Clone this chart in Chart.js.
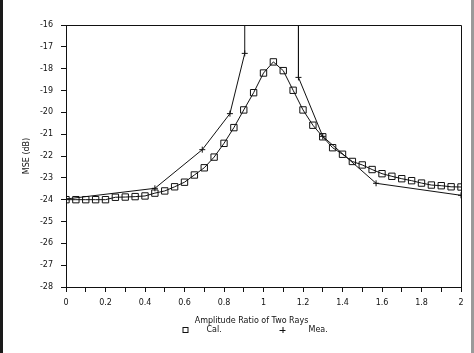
<!DOCTYPE html>
<html>
<head>
<meta charset="utf-8">
<script src="https://cdn.jsdelivr.net/npm/chart.js@4.4.1/dist/chart.umd.min.js"></script>
<style>
  html, body { margin: 0; padding: 0; background: #fff; }
  #wrap { width: 474px; height: 353px; }
</style>
</head>
<body>
<div id="wrap"><canvas id="mseChart" width="474" height="353"></canvas></div>
<script>
// amplitude ratio of the two rays (x) for the calculated curve
const calX = [0, 0.05, 0.1, 0.15, 0.2, 0.25, 0.3, 0.35, 0.4, 0.45, 0.5, 0.55, 0.6, 0.65, 0.7, 0.75, 0.8, 0.85, 0.9, 0.95,
              1.0, 1.05, 1.1, 1.15, 1.2, 1.25, 1.3, 1.35, 1.4, 1.45, 1.5, 1.55, 1.6, 1.65, 1.7, 1.75, 1.8, 1.85, 1.9, 1.95, 2.0];
// calculated MSE (dB)
const calY = [-24.0, -24.0, -24.0, -24.0, -24.0, -23.89, -23.88, -23.86, -23.83, -23.7, -23.6, -23.41, -23.2, -22.87, -22.54, -22.05, -21.42, -20.7, -19.89, -19.1,
              -18.2, -17.69, -18.09, -18.99, -19.89, -20.59, -21.12, -21.62, -21.92, -22.25, -22.41, -22.62, -22.81, -22.93, -23.04, -23.13, -23.24, -23.33, -23.36, -23.41, -23.42];

// measured points (the -10 ones are off the top of the plot)
const meaX = [0, 0.45, 0.69, 0.83, 0.905, 0.905, 1.177, 1.177, 1.3, 1.57, 2.0];
const meaY = [-23.97, -23.48, -21.71, -20.06, -17.3, -10, -10, -18.4, -21.1, -23.25, -23.8];

const xTitle = 'Amplitude Ratio of Two Rays';
const yTitle = 'MSE (dB)';
const legendNames = ['Cal.', 'Mea.'];

const FONT = { family: '"DejaVu Sans", sans-serif', size: 8 };
const INK = '#111';

let calPts = calX.map((x, i) => ({ x: x, y: calY[i] }));
let meaPts = meaX.map((x, i) => ({ x: x, y: meaY[i] }));

// frame, scan strips, x title and the little legend under it
const extras = {
  id: 'extras',
  beforeDraw(chart) {
    const c = chart.ctx;
    c.save();
    c.fillStyle = '#fff';
    c.fillRect(0, 0, chart.width, chart.height);
    c.fillStyle = '#1a1a1a';
    c.fillRect(0, 0, 3, chart.height);
    c.fillStyle = '#9a9a9a';
    c.fillRect(chart.width - 3, 0, 3, chart.height);
    c.restore();
  },
  afterDraw(chart) {
    const a = chart.chartArea;
    const c = chart.ctx;
    c.save();
    c.strokeStyle = INK;
    c.lineWidth = 1;
    c.beginPath();
    c.moveTo(a.left - 3, a.top + 0.5);
    c.lineTo(a.right + 0.5, a.top + 0.5);
    c.lineTo(a.right + 0.5, a.bottom);
    c.stroke();

    const mid = (a.left + a.right) / 2;
    c.fillStyle = INK;
    c.font = FONT.size + 'px ' + FONT.family;
    c.textBaseline = 'middle';
    c.textAlign = 'center';
    c.fillText(xTitle, mid - 12, a.bottom + 34);

    const ly = a.bottom + 43;
    c.textAlign = 'left';
    c.strokeRect(mid - 80.5, ly - 2.5, 5, 5);
    c.fillText(legendNames[0], mid - 57, ly);
    c.beginPath();
    c.moveTo(mid + 16, ly + 0.5); c.lineTo(mid + 22, ly + 0.5);
    c.moveTo(mid + 19.5, ly - 3); c.lineTo(mid + 19.5, ly + 3);
    c.stroke();
    c.fillText(legendNames[1], mid + 45, ly);
    c.restore();
  }
};

new Chart(document.getElementById('mseChart').getContext('2d'), {
  type: 'line',
  data: {
    datasets: [{
      label: legendNames[0],
      data: calPts,
      borderColor: INK,
      borderWidth: 1,
      backgroundColor: 'rgba(0,0,0,0)',
      pointStyle: 'rect',
      pointRadius: 4.5,
      pointBorderWidth: 1,
      pointBorderColor: INK,
      tension: 0
    }, {
      label: legendNames[1],
      data: meaPts,
      borderColor: INK,
      borderWidth: 1,
      backgroundColor: 'rgba(0,0,0,0)',
      pointStyle: 'cross',
      pointRadius: 3,
      pointBorderWidth: 1,
      pointBorderColor: INK,
      tension: 0
    }]
  },
  options: {
    responsive: false,
    animation: false,
    events: [],
    layout: { padding: { left: 18, top: 25, right: 13, bottom: 0 } },
    plugins: {
      legend: { display: false },
      tooltip: { enabled: false }
    },
    scales: {
      x: {
        type: 'linear',
        min: 0,
        max: 2,
        afterFit: (s) => { s.height = 66; },
        border: { display: true, color: INK, width: 1 },
        grid: { drawOnChartArea: false, drawTicks: true, tickLength: 5, color: INK },
        ticks: {
          stepSize: 0.1,
          color: INK,
          font: FONT,
          padding: 6,
          maxRotation: 0,
          autoSkip: false,
          callback: (v) => {
            let k = Math.round(v * 10);
            return k % 2 === 0 ? String(k / 10) : '';
          }
        }
      },
      y: {
        type: 'linear',
        min: -28,
        max: -16,
        afterFit: (s) => { s.width = 48; },
        border: { display: true, color: INK, width: 1 },
        grid: { drawOnChartArea: false, drawTicks: true, tickLength: 5, color: INK },
        ticks: { stepSize: 1, color: INK, font: FONT, padding: 8 },
        title: { display: true, text: yTitle, color: INK, font: FONT, padding: { top: 4, bottom: 4 } }
      }
    }
  },
  plugins: [extras]
});
</script>
</body>
</html>
